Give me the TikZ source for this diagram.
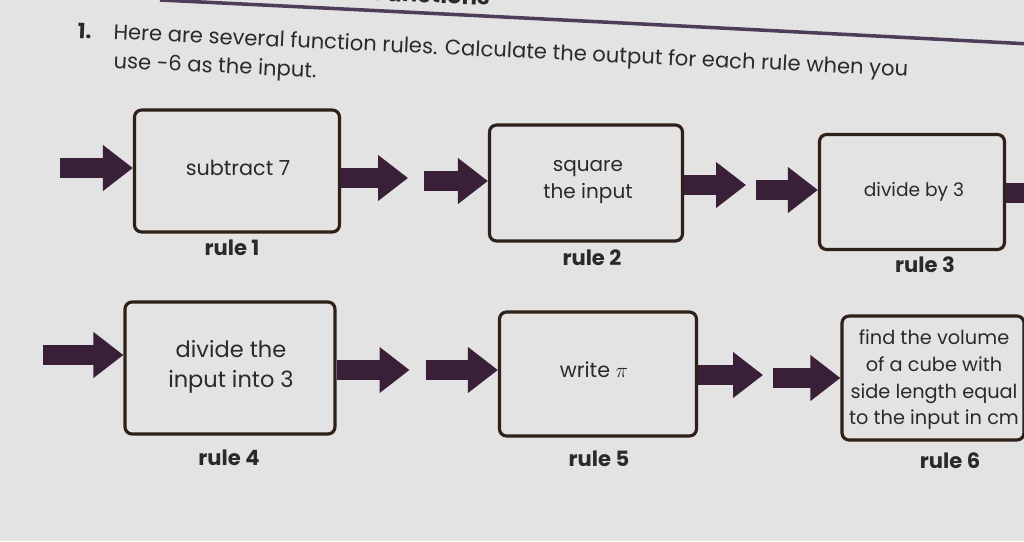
\documentclass[tikz,border=0pt]{standalone}
\usepackage{fontspec}
\setmainfont{Poppins}
\usetikzlibrary{arrows.meta,calc}
\definecolor{bgcol}{HTML}{E3E3E3}
\definecolor{boxcol}{HTML}{2E2119}
\definecolor{arrcol}{HTML}{3A1F38}
\definecolor{txtcol}{HTML}{2A2A2A}
\definecolor{linecol}{HTML}{4C3D58}
\begin{document}
\begin{tikzpicture}[x=0.02cm,y=-0.02cm,
  rulebox/.style={draw=boxcol, line width=1.8pt, rounded corners=4pt, fill=none, inner sep=0pt},
  boxtext/.style={text=txtcol, font=\fontsize{11.3}{15.5}\selectfont, align=center, inner sep=0pt},
  rulelabel/.style={text=txtcol, font=\fontsize{12}{13}\selectfont\bfseries, inner sep=0pt},
  headtext/.style={text=txtcol, font=\fontsize{12}{14}\selectfont, inner sep=0pt, rotate=-2.7},
  barrow/.style={draw=arrcol, line width=0.4cm, -{Triangle[length=0.6cm,width=0.88cm]}, arrcol}]
\fill[bgcol] (0,0) rectangle (1024,541);
\useasboundingbox (0,0) rectangle (1024,541);

% title cut at the top edge
\node[text=txtcol, font=\fontsize{13}{14}\selectfont\bfseries, anchor=base east, inner sep=0pt, rotate=-2] (title) at (490,5) {Functions};

% top rule of the page
\coordinate (tl) at (160,0);
\coordinate (tr) at (1030,44);
\draw[linecol, line width=2pt] (tl) .. controls (450,14) and (800,32) .. (tr);

% header
\node[headtext, anchor=base west, font=\fontsize{12}{14}\selectfont\bfseries] (num) at (77,38) {1.};
\node[headtext, anchor=base west] (h1) at (113,39) {Here are several function rules. Calculate the output for each rule when you};
\node[headtext, anchor=base west] (h2) at (113,68) {use -6 as the input.};

% boxes
\node[rulebox, minimum width=4.10cm, minimum height=2.44cm] (b1) at (237,171) {};
\node[rulebox, minimum width=3.86cm, minimum height=2.32cm] (b2) at (586,183) {};
\node[rulebox, minimum width=3.70cm, minimum height=2.30cm] (b3) at (912,192) {};
\node[rulebox, minimum width=4.20cm, minimum height=2.64cm] (b4) at (230,368) {};
\node[rulebox, minimum width=3.94cm, minimum height=2.48cm] (b5) at (598,374) {};
\node[rulebox, minimum width=3.64cm, minimum height=2.48cm] (b6) at (933,378) {};

% box texts
\node[boxtext, font=\fontsize{11.8}{15.5}\selectfont] (t1) at (238,168) {subtract 7};
\node[boxtext, font=\fontsize{11.4}{15.5}\selectfont] (t2) at (588,182) {square\\the input};
\node[boxtext, font=\fontsize{10.6}{15.5}\selectfont] (t3) at (914,192) {divide by 3};
\node[boxtext, font=\fontsize{12.8}{17}\selectfont] (t4) at (231,367) {divide the\\input into 3};
\node[boxtext, font=\fontsize{11.8}{15.5}\selectfont] (t5) at (594,370) {write $\pi$};
\node[boxtext, font=\fontsize{11}{15.2}\selectfont] (t6) at (934,380) {find the volume\\of a cube with\\side length equal\\to the input in cm};

% rule labels
\node[rulelabel] (r1) at (232,248) {rule 1};
\node[rulelabel] (r2) at (592,258) {rule 2};
\node[rulelabel] (r3) at (925,265) {rule 3};
\node[rulelabel] (r4) at (229,458) {rule 4};
\node[rulelabel] (r5) at (599,459) {rule 5};
\node[rulelabel] (r6) at (950,461) {rule 6};

% arrows row 1
\coordinate (in1) at ($(b1.west)+(-73,-3)$);
\draw[barrow] (in1) -- (in1 -| b1.west);
\coordinate (o1) at ($(b1.east)+(0,7)$);
\draw[barrow] (o1) -- ++(67,0) coordinate (o1e);
\coordinate (in2) at ($(b2.west)+(-64,-2)$);
\draw[barrow] (in2) -- (in2 -| b2.west);
\coordinate (o2) at ($(b2.east)+(0,2)$);
\draw[barrow] (o2) -- ++(62,0) coordinate (o2e);
\coordinate (in3) at ($(b3.west)+(-62,-2)$);
\draw[barrow] (in3) -- (in3 -| b3.west);
\coordinate (o3) at ($(b3.east)+(0,1)$);
\draw[barrow] (o3) -- ++(70,0) coordinate (o3e);

% arrows row 2
\coordinate (in4) at ($(b4.west)+(-80,-13)$);
\draw[barrow] (in4) -- (in4 -| b4.west);
\coordinate (o4) at ($(b4.east)+(0,2)$);
\draw[barrow] (o4) -- ++(73,0) coordinate (o4e);
\coordinate (in5) at ($(b5.west)+(-72,-4)$);
\draw[barrow] (in5) -- (in5 -| b5.west);
\coordinate (o5) at ($(b5.east)+(0,1)$);
\draw[barrow] (o5) -- ++(65,0) coordinate (o5e);
\coordinate (in6) at ($(b6.west)+(-67,0)$);
\draw[barrow] (in6) -- (in6 -| b6.west);
\end{tikzpicture}
\end{document}
